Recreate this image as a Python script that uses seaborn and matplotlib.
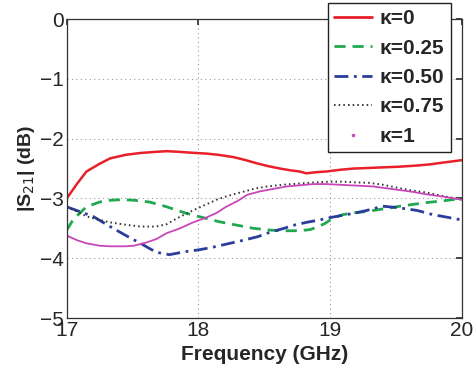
import numpy as np
import pandas as pd
import matplotlib
matplotlib.use("Agg")
import matplotlib.pyplot as plt
import seaborn as sns
from matplotlib.lines import Line2D

# values (frequency in GHz, |S21| in dB)
freq_k0 = [17.0, 17.08, 17.15, 17.25, 17.33, 17.45, 17.56, 17.68, 17.76, 17.85, 17.91, 18.06, 18.15,
           18.27, 18.36, 18.44, 18.53, 18.62, 18.70, 18.77, 18.82, 18.90, 18.97, 19.08, 19.18, 19.3,
           19.4, 19.52, 19.66, 19.76, 19.86, 19.93, 20.0]
s21_k0 = [-3.0, -2.75, -2.55, -2.42, -2.33, -2.27, -2.24, -2.22, -2.21, -2.22, -2.23, -2.25, -2.27,
          -2.31, -2.36, -2.41, -2.46, -2.50, -2.53, -2.55, -2.58, -2.56, -2.55, -2.52, -2.50, -2.49,
          -2.48, -2.47, -2.45, -2.43, -2.40, -2.38, -2.36]

freq_k025 = [17.0, 17.05, 17.15, 17.25, 17.33, 17.42, 17.51, 17.63, 17.76, 17.91, 18.0, 18.16,
             18.3, 18.42, 18.55, 18.65, 18.77, 18.85, 18.90, 18.96, 19.03, 19.1, 19.18, 19.27,
             19.36, 19.45, 19.53, 19.63, 19.73, 19.86, 20.0]
s21_k025 = [-3.53, -3.35, -3.14, -3.06, -3.03, -3.02, -3.03, -3.06, -3.14, -3.25, -3.30, -3.39,
            -3.45, -3.50, -3.53, -3.54, -3.54, -3.52, -3.48, -3.42, -3.32, -3.27, -3.24, -3.22,
            -3.19, -3.16, -3.13, -3.10, -3.07, -3.04, -3.00]

freq_k050 = [17.0, 17.1, 17.2, 17.33, 17.45, 17.56, 17.68, 17.78, 17.9, 18.0, 18.1, 18.2, 18.34,
             18.45, 18.55, 18.65, 18.72, 18.82, 18.92, 19.0, 19.1, 19.2, 19.28, 19.4, 19.5, 19.66,
             19.78, 19.88, 20.0]
s21_k050 = [-3.14, -3.22, -3.30, -3.47, -3.62, -3.75, -3.90, -3.94, -3.89, -3.86, -3.82, -3.77,
            -3.70, -3.64, -3.56, -3.50, -3.45, -3.40, -3.36, -3.32, -3.28, -3.24, -3.20, -3.13,
            -3.15, -3.20, -3.27, -3.31, -3.36]

freq_k075 = [17.0, 17.08, 17.15, 17.25, 17.33, 17.45, 17.56, 17.68, 17.76, 17.84, 17.94, 18.0,
             18.08, 18.14, 18.22, 18.32, 18.42, 18.52, 18.65, 18.77, 18.9, 19.0, 19.1, 19.18,
             19.3, 19.4, 19.53, 19.63, 19.73, 19.86, 20.0]
s21_k075 = [-3.14, -3.22, -3.30, -3.36, -3.40, -3.44, -3.47, -3.47, -3.43, -3.33, -3.22, -3.16,
            -3.08, -3.02, -2.96, -2.90, -2.84, -2.80, -2.77, -2.75, -2.73, -2.72, -2.72, -2.73,
            -2.74, -2.77, -2.83, -2.87, -2.90, -2.96, -3.02]

freq_k1 = [17.0, 17.08, 17.15, 17.25, 17.33, 17.45, 17.51, 17.6, 17.68, 17.76, 17.86, 17.96,
           18.06, 18.14, 18.21, 18.3, 18.37, 18.47, 18.57, 18.67, 18.77, 18.87, 18.97, 19.07,
           19.15, 19.25, 19.33, 19.43, 19.53, 19.63, 19.73, 19.86, 20.0]
s21_k1 = [-3.62, -3.70, -3.75, -3.79, -3.80, -3.80, -3.79, -3.74, -3.68, -3.58, -3.50, -3.40,
          -3.32, -3.24, -3.14, -3.04, -2.94, -2.88, -2.84, -2.80, -2.78, -2.76, -2.76, -2.77,
          -2.78, -2.79, -2.80, -2.83, -2.86, -2.89, -2.93, -2.97, -3.02]

labels = ["\u03ba=0", "\u03ba=0.25", "\u03ba=0.50", "\u03ba=0.75", "\u03ba=1"]
freqs = [freq_k0, freq_k025, freq_k050, freq_k075, freq_k1]
values = [s21_k0, s21_k025, s21_k050, s21_k075, s21_k1]

colors = ["#e8202a", "#1fa84f", "#2b3d9c", "#333333", "#c946b8"]
styles = ["-", (0, (4, 2.5)), (0, (5, 2, 1, 2)), (0, (0.8, 1.6)), "-"]
widths = [1.8, 2.0, 2.0, 1.4, 1.3]

sns.set_theme(style="white")
plt.rcParams["font.family"] = ["Liberation Sans", "DejaVu Sans"]

fig = plt.figure(figsize=(4.74, 3.69), dpi=100)
ax = fig.add_axes([0.1407, 0.138, 0.8333, 0.8105])

for f, v, lab, c, ls, lw in zip(freqs, values, labels, colors, styles, widths):
    df = pd.DataFrame({"Frequency": f, "S21": v})
    sns.lineplot(data=df, x="Frequency", y="S21", ax=ax, color=c, linewidth=lw,
                 linestyle=ls, label=lab, legend=False)

ax.set_xlim(17, 20)
ax.set_ylim(-5, 0)
ax.set_xticks([17, 18, 19, 20])
ax.set_yticks([0, -1, -2, -3, -4, -5])
ax.set_yticklabels(["0", "\u22121", "\u22122", "\u22123", "\u22124", "\u22125"])
ax.grid(True, linestyle=(0, (1, 3)), color="#999999", linewidth=0.8)
ax.tick_params(direction="in", length=4, top=True, right=True, labelsize=15, pad=2,
               color="#333333")
for s in ax.spines.values():
    s.set_color("#333333")
    s.set_linewidth(0.9)

ax.set_xlabel("Frequency (GHz)", fontsize=15, fontweight="bold", labelpad=3.5)
ax.set_ylabel("|S$_{21}$| (dB)", fontsize=14, fontweight="bold", labelpad=2)

handles = [
    Line2D([], [], color=colors[0], lw=2, ls="-"),
    Line2D([], [], color=colors[1], lw=2, ls=(0, (4, 2.5))),
    Line2D([], [], color=colors[2], lw=2, ls=(0, (5, 2, 1, 2))),
    Line2D([], [], color=colors[3], lw=1.4, ls=(0, (0.8, 1.6))),
    Line2D([], [], color=colors[4], lw=0, marker=".", markersize=3),
]
leg = fig.legend(handles, labels, loc="upper right", bbox_to_anchor=(0.951, 0.992),
                 prop={"size": 15, "weight": "bold"}, frameon=True, fancybox=False,
                 framealpha=1, edgecolor="#222222", handlelength=1.8, handletextpad=0.4,
                 labelspacing=0.5, borderpad=0.3, borderaxespad=0)
leg.get_frame().set_linewidth(1.0)

fig.savefig("out.png", dpi=100)
